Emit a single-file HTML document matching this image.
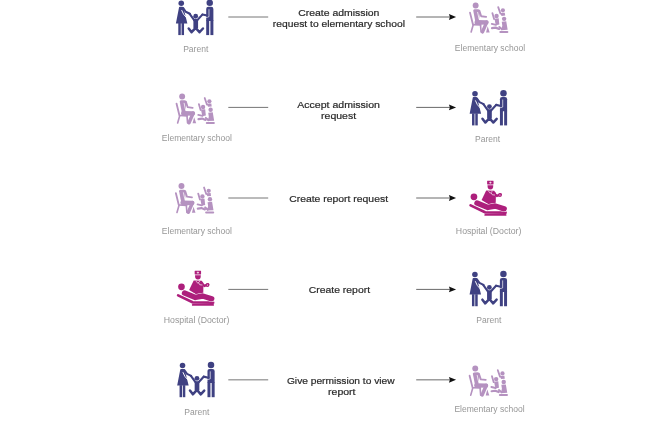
<!DOCTYPE html>
<html><head><meta charset="utf-8"><title>Flow</title>
<style>
html,body{margin:0;padding:0;background:#fff;}
body{width:653px;height:439px;position:relative;overflow:hidden;font-family:"Liberation Sans",sans-serif;}
svg{position:absolute;left:0;top:0;display:block;will-change:transform;}
text{font-family:"Liberation Sans",sans-serif;}
.lb{font-size:8.3px;fill:#969696;text-anchor:middle;}
.ct{font-size:9.3px;fill:#2a2a2a;stroke:#2a2a2a;stroke-width:0.2px;text-anchor:middle;}
</style></head><body>
<svg width="653" height="439" viewBox="0 0 653 439">
<g transform="translate(168.73,-4.11)"><g transform="translate(0,0) scale(0.09560)"><g fill="#3f4182" stroke="none">
<circle cx="131" cy="78" r="29"/>
<path d="M107 123 Q107 114 116 114 L142 114 Q151 114 154 123 L195 288 L75 288 Z"/>
<rect x="100" y="284" width="26" height="126"/>
<rect x="134" y="284" width="26" height="126"/>
<circle cx="429" cy="73" r="34"/>
<path d="M392 136 Q392 114 414 114 L444 114 Q467 114 467 136 L467 262 L392 262 Z"/>
<rect x="392" y="255" width="31" height="155"/>
<rect x="436" y="255" width="31" height="155"/>
<circle cx="282" cy="213" r="25"/>
<rect x="258" y="242" width="49" height="100" rx="13"/>
</g>
<g fill="none" stroke="#3f4182" stroke-linecap="round" stroke-linejoin="round">
<path d="M136 152 Q150 196 184 226" stroke-width="10" stroke="#fff" />
<path d="M150 126 L178 166 L221 187" stroke-width="21"/>
<path d="M421 144 L421 218 L392 226" stroke-width="7" stroke="#fff"/>
<path d="M402 206 L353 195" stroke-width="22"/>
<path d="M268 256 L219 188" stroke-width="22"/>
<path d="M297 256 L352 196" stroke-width="22"/>
<path d="M209 341 L239 380 L282 334 L322 380 L358 341" stroke-width="26"/>
</g></g></g>
<text class="lb" transform="translate(195.70,51.75) scale(1.03,1)">Parent</text>
<path d="M228.3 17.00 L268.2 17.00" stroke="#767676" stroke-width="1" fill="none"/>
<text class="ct" transform="translate(338.80,16.25) scale(1.125,1)">Create admission</text>
<text class="ct" transform="translate(338.90,26.95) scale(1.108,1)">request to elementary school</text>
<g transform="translate(416,17.00)"><path d="M0.2 0 L34 0" stroke="#6a6a6a" stroke-width="1" fill="none"/><path d="M40.1 0 L32.9 -2.9 L33.9 0 L32.9 2.9 Z" fill="#111"/></g>
<g transform="translate(463.50,-2.95)"><g transform="translate(0,0) scale(0.09560)"><g fill="#b592c0" stroke="none">
<circle cx="127" cy="88" r="31"/>
<path d="M102 143 Q101 129 115 128 L152 127 Q164 127 168 139 L172 170 L160 250 L126 268 Z"/>
<path d="M253 306 L274 370 L236 370 Z"/>
<circle cx="412" cy="139" r="22"/>
<circle cx="346" cy="198" r="23"/>
<circle cx="425" cy="228" r="23"/>
<path d="M382 166 L432 163 L436 194 L398 197 Z"/>
<path d="M324 226 L368 221 L375 288 L338 296 Z"/>
<path d="M400 258 L447 254 L462 342 L394 346 L406 300 Z"/>
</g>
<g fill="none" stroke="#b592c0" stroke-linecap="round" stroke-linejoin="round">
<path d="M148 160 L163 230" stroke-width="8" stroke="#fff"/>
<path d="M166 142 L185 201 L237 207" stroke-width="19"/>
<path d="M138 264 L240 266" stroke-width="46"/>
<path d="M243 262 L199 364" stroke-width="36"/>
<path d="M68 163 L99 287 L180 290" stroke-width="19"/>
<path d="M101 292 L80 366" stroke-width="17"/>
<path d="M178 294 L184 366" stroke-width="17"/>
<path d="M386 172 L363 105" stroke-width="19"/>
<path d="M320 230 L302 168" stroke-width="19"/>
<path d="M296 281 L340 291" stroke-width="20"/>
<path d="M298 325 L336 320 L372 334" stroke-width="23"/>
<path d="M375 313 L402 336" stroke-width="21"/>
<path d="M385 365 L459 365" stroke-width="21"/>
</g></g></g>
<text class="lb" transform="translate(489.95,51.00) scale(1.03,1)">Elementary school</text>
<g transform="translate(170.00,88.00)"><g transform="translate(0,0) scale(0.09560)"><g fill="#b592c0" stroke="none">
<circle cx="127" cy="88" r="31"/>
<path d="M102 143 Q101 129 115 128 L152 127 Q164 127 168 139 L172 170 L160 250 L126 268 Z"/>
<path d="M253 306 L274 370 L236 370 Z"/>
<circle cx="412" cy="139" r="22"/>
<circle cx="346" cy="198" r="23"/>
<circle cx="425" cy="228" r="23"/>
<path d="M382 166 L432 163 L436 194 L398 197 Z"/>
<path d="M324 226 L368 221 L375 288 L338 296 Z"/>
<path d="M400 258 L447 254 L462 342 L394 346 L406 300 Z"/>
</g>
<g fill="none" stroke="#b592c0" stroke-linecap="round" stroke-linejoin="round">
<path d="M148 160 L163 230" stroke-width="8" stroke="#fff"/>
<path d="M166 142 L185 201 L237 207" stroke-width="19"/>
<path d="M138 264 L240 266" stroke-width="46"/>
<path d="M243 262 L199 364" stroke-width="36"/>
<path d="M68 163 L99 287 L180 290" stroke-width="19"/>
<path d="M101 292 L80 366" stroke-width="17"/>
<path d="M178 294 L184 366" stroke-width="17"/>
<path d="M386 172 L363 105" stroke-width="19"/>
<path d="M320 230 L302 168" stroke-width="19"/>
<path d="M296 281 L340 291" stroke-width="20"/>
<path d="M298 325 L336 320 L372 334" stroke-width="23"/>
<path d="M375 313 L402 336" stroke-width="21"/>
<path d="M385 365 L459 365" stroke-width="21"/>
</g></g></g>
<text class="lb" transform="translate(196.90,141.00) scale(1.03,1)">Elementary school</text>
<path d="M228.3 107.40 L268.2 107.40" stroke="#767676" stroke-width="1" fill="none"/>
<text class="ct" transform="translate(338.60,108.10) scale(1.135,1)">Accept admission</text>
<text class="ct" transform="translate(338.60,119.10) scale(1.128,1)">request</text>
<g transform="translate(416,107.40)"><path d="M0.2 0 L34 0" stroke="#6a6a6a" stroke-width="1" fill="none"/><path d="M40.1 0 L32.9 -2.9 L33.9 0 L32.9 2.9 Z" fill="#111"/></g>
<g transform="translate(462.47,86.21)"><g transform="translate(0,0) scale(0.09560)"><g fill="#3f4182" stroke="none">
<circle cx="131" cy="78" r="29"/>
<path d="M107 123 Q107 114 116 114 L142 114 Q151 114 154 123 L195 288 L75 288 Z"/>
<rect x="100" y="284" width="26" height="126"/>
<rect x="134" y="284" width="26" height="126"/>
<circle cx="429" cy="73" r="34"/>
<path d="M392 136 Q392 114 414 114 L444 114 Q467 114 467 136 L467 262 L392 262 Z"/>
<rect x="392" y="255" width="31" height="155"/>
<rect x="436" y="255" width="31" height="155"/>
<circle cx="282" cy="213" r="25"/>
<rect x="258" y="242" width="49" height="100" rx="13"/>
</g>
<g fill="none" stroke="#3f4182" stroke-linecap="round" stroke-linejoin="round">
<path d="M136 152 Q150 196 184 226" stroke-width="10" stroke="#fff" />
<path d="M150 126 L178 166 L221 187" stroke-width="21"/>
<path d="M421 144 L421 218 L392 226" stroke-width="7" stroke="#fff"/>
<path d="M402 206 L353 195" stroke-width="22"/>
<path d="M268 256 L219 188" stroke-width="22"/>
<path d="M297 256 L352 196" stroke-width="22"/>
<path d="M209 341 L239 380 L282 334 L322 380 L358 341" stroke-width="26"/>
</g></g></g>
<text class="lb" transform="translate(487.60,141.90) scale(1.03,1)">Parent</text>
<g transform="translate(169.33,177.50)"><g transform="translate(0,0) scale(0.09560)"><g fill="#b592c0" stroke="none">
<circle cx="127" cy="88" r="31"/>
<path d="M102 143 Q101 129 115 128 L152 127 Q164 127 168 139 L172 170 L160 250 L126 268 Z"/>
<path d="M253 306 L274 370 L236 370 Z"/>
<circle cx="412" cy="139" r="22"/>
<circle cx="346" cy="198" r="23"/>
<circle cx="425" cy="228" r="23"/>
<path d="M382 166 L432 163 L436 194 L398 197 Z"/>
<path d="M324 226 L368 221 L375 288 L338 296 Z"/>
<path d="M400 258 L447 254 L462 342 L394 346 L406 300 Z"/>
</g>
<g fill="none" stroke="#b592c0" stroke-linecap="round" stroke-linejoin="round">
<path d="M148 160 L163 230" stroke-width="8" stroke="#fff"/>
<path d="M166 142 L185 201 L237 207" stroke-width="19"/>
<path d="M138 264 L240 266" stroke-width="46"/>
<path d="M243 262 L199 364" stroke-width="36"/>
<path d="M68 163 L99 287 L180 290" stroke-width="19"/>
<path d="M101 292 L80 366" stroke-width="17"/>
<path d="M178 294 L184 366" stroke-width="17"/>
<path d="M386 172 L363 105" stroke-width="19"/>
<path d="M320 230 L302 168" stroke-width="19"/>
<path d="M296 281 L340 291" stroke-width="20"/>
<path d="M298 325 L336 320 L372 334" stroke-width="23"/>
<path d="M375 313 L402 336" stroke-width="21"/>
<path d="M385 365 L459 365" stroke-width="21"/>
</g></g></g>
<text class="lb" transform="translate(196.90,233.60) scale(1.03,1)">Elementary school</text>
<path d="M228.3 198.00 L268.2 198.00" stroke="#767676" stroke-width="1" fill="none"/>
<text class="ct" transform="translate(338.60,201.70) scale(1.12,1)">Create report request</text>
<g transform="translate(416,198.00)"><path d="M0.2 0 L34 0" stroke="#6a6a6a" stroke-width="1" fill="none"/><path d="M40.1 0 L32.9 -2.9 L33.9 0 L32.9 2.9 Z" fill="#111"/></g>
<g transform="translate(462.47,178.00)"><g transform="translate(0,0) scale(0.09560)"><g fill="#ad1f7c" stroke="none">
<rect x="258" y="28" width="67" height="40" rx="4"/>
<path d="M262 76 L322 76 Q324 121 292 121 Q260 121 262 76 Z"/>
<path d="M248 132 L332 133 L350 158 L348 262 L272 274 L200 230 Z"/>
<circle cx="120" cy="197" r="35"/>
<circle cx="392" cy="178" r="20"/>
</g>
<g fill="none" stroke="#ad1f7c" stroke-linecap="round" stroke-linejoin="round">
<path d="M334 162 L360 188 L400 172" stroke-width="25"/>
<path d="M85 286 L236 359 L451 363" stroke-width="28"/>
<path d="M238 386 L451 386" stroke-width="19"/>
<path d="M152 261 L266 308 L342 293 L436 322" stroke-width="66" stroke="#fff"/>
<path d="M152 261 L266 308 L342 293 L436 322" stroke-width="57"/>
</g>
<g fill="none" stroke="#fff" stroke-width="7">
<path d="M292 37 L292 60 M280 48 L304 48"/>
<path d="M272 137 L292 160 L312 137"/>
<path d="M300 156 Q304 184 340 178"/>
</g>
<circle cx="392" cy="178" r="6" fill="#fff"/></g></g>
<text class="lb" transform="translate(488.60,233.70) scale(1.055,1)">Hospital (Doctor)</text>
<g transform="translate(170.00,268.00)"><g transform="translate(0,0) scale(0.09560)"><g fill="#ad1f7c" stroke="none">
<rect x="258" y="28" width="67" height="40" rx="4"/>
<path d="M262 76 L322 76 Q324 121 292 121 Q260 121 262 76 Z"/>
<path d="M248 132 L332 133 L350 158 L348 262 L272 274 L200 230 Z"/>
<circle cx="120" cy="197" r="35"/>
<circle cx="392" cy="178" r="20"/>
</g>
<g fill="none" stroke="#ad1f7c" stroke-linecap="round" stroke-linejoin="round">
<path d="M334 162 L360 188 L400 172" stroke-width="25"/>
<path d="M85 286 L236 359 L451 363" stroke-width="28"/>
<path d="M238 386 L451 386" stroke-width="19"/>
<path d="M152 261 L266 308 L342 293 L436 322" stroke-width="66" stroke="#fff"/>
<path d="M152 261 L266 308 L342 293 L436 322" stroke-width="57"/>
</g>
<g fill="none" stroke="#fff" stroke-width="7">
<path d="M292 37 L292 60 M280 48 L304 48"/>
<path d="M272 137 L292 160 L312 137"/>
<path d="M300 156 Q304 184 340 178"/>
</g>
<circle cx="392" cy="178" r="6" fill="#fff"/></g></g>
<text class="lb" transform="translate(196.55,322.80) scale(1.055,1)">Hospital (Doctor)</text>
<path d="M228.3 289.40 L268.2 289.40" stroke="#767676" stroke-width="1" fill="none"/>
<text class="ct" transform="translate(339.40,292.80) scale(1.12,1)">Create report</text>
<g transform="translate(416,289.40)"><path d="M0.2 0 L34 0" stroke="#6a6a6a" stroke-width="1" fill="none"/><path d="M40.1 0 L32.9 -2.9 L33.9 0 L32.9 2.9 Z" fill="#111"/></g>
<g transform="translate(462.40,267.04)"><g transform="translate(0,0) scale(0.09560)"><g fill="#3f4182" stroke="none">
<circle cx="131" cy="78" r="29"/>
<path d="M107 123 Q107 114 116 114 L142 114 Q151 114 154 123 L195 288 L75 288 Z"/>
<rect x="100" y="284" width="26" height="126"/>
<rect x="134" y="284" width="26" height="126"/>
<circle cx="429" cy="73" r="34"/>
<path d="M392 136 Q392 114 414 114 L444 114 Q467 114 467 136 L467 262 L392 262 Z"/>
<rect x="392" y="255" width="31" height="155"/>
<rect x="436" y="255" width="31" height="155"/>
<circle cx="282" cy="213" r="25"/>
<rect x="258" y="242" width="49" height="100" rx="13"/>
</g>
<g fill="none" stroke="#3f4182" stroke-linecap="round" stroke-linejoin="round">
<path d="M136 152 Q150 196 184 226" stroke-width="10" stroke="#fff" />
<path d="M150 126 L178 166 L221 187" stroke-width="21"/>
<path d="M421 144 L421 218 L392 226" stroke-width="7" stroke="#fff"/>
<path d="M402 206 L353 195" stroke-width="22"/>
<path d="M268 256 L219 188" stroke-width="22"/>
<path d="M297 256 L352 196" stroke-width="22"/>
<path d="M209 341 L239 380 L282 334 L322 380 L358 341" stroke-width="26"/>
</g></g></g>
<text class="lb" transform="translate(488.90,323.20) scale(1.03,1)">Parent</text>
<g transform="translate(170.00,358.00)"><g transform="translate(0,0) scale(0.09560)"><g fill="#3f4182" stroke="none">
<circle cx="131" cy="78" r="29"/>
<path d="M107 123 Q107 114 116 114 L142 114 Q151 114 154 123 L195 288 L75 288 Z"/>
<rect x="100" y="284" width="26" height="126"/>
<rect x="134" y="284" width="26" height="126"/>
<circle cx="429" cy="73" r="34"/>
<path d="M392 136 Q392 114 414 114 L444 114 Q467 114 467 136 L467 262 L392 262 Z"/>
<rect x="392" y="255" width="31" height="155"/>
<rect x="436" y="255" width="31" height="155"/>
<circle cx="282" cy="213" r="25"/>
<rect x="258" y="242" width="49" height="100" rx="13"/>
</g>
<g fill="none" stroke="#3f4182" stroke-linecap="round" stroke-linejoin="round">
<path d="M136 152 Q150 196 184 226" stroke-width="10" stroke="#fff" />
<path d="M150 126 L178 166 L221 187" stroke-width="21"/>
<path d="M421 144 L421 218 L392 226" stroke-width="7" stroke="#fff"/>
<path d="M402 206 L353 195" stroke-width="22"/>
<path d="M268 256 L219 188" stroke-width="22"/>
<path d="M297 256 L352 196" stroke-width="22"/>
<path d="M209 341 L239 380 L282 334 L322 380 L358 341" stroke-width="26"/>
</g></g></g>
<text class="lb" transform="translate(196.90,414.60) scale(1.03,1)">Parent</text>
<path d="M228.3 379.85 L268.2 379.85" stroke="#767676" stroke-width="1" fill="none"/>
<text class="ct" transform="translate(340.75,383.80) scale(1.098,1)">Give permission to view</text>
<text class="ct" transform="translate(341.80,394.60) scale(1.13,1)">report</text>
<g transform="translate(416,379.85)"><path d="M0.2 0 L34 0" stroke="#6a6a6a" stroke-width="1" fill="none"/><path d="M40.1 0 L32.9 -2.9 L33.9 0 L32.9 2.9 Z" fill="#111"/></g>
<g transform="translate(463.10,360.16)"><g transform="translate(0,0) scale(0.09560)"><g fill="#b592c0" stroke="none">
<circle cx="127" cy="88" r="31"/>
<path d="M102 143 Q101 129 115 128 L152 127 Q164 127 168 139 L172 170 L160 250 L126 268 Z"/>
<path d="M253 306 L274 370 L236 370 Z"/>
<circle cx="412" cy="139" r="22"/>
<circle cx="346" cy="198" r="23"/>
<circle cx="425" cy="228" r="23"/>
<path d="M382 166 L432 163 L436 194 L398 197 Z"/>
<path d="M324 226 L368 221 L375 288 L338 296 Z"/>
<path d="M400 258 L447 254 L462 342 L394 346 L406 300 Z"/>
</g>
<g fill="none" stroke="#b592c0" stroke-linecap="round" stroke-linejoin="round">
<path d="M148 160 L163 230" stroke-width="8" stroke="#fff"/>
<path d="M166 142 L185 201 L237 207" stroke-width="19"/>
<path d="M138 264 L240 266" stroke-width="46"/>
<path d="M243 262 L199 364" stroke-width="36"/>
<path d="M68 163 L99 287 L180 290" stroke-width="19"/>
<path d="M101 292 L80 366" stroke-width="17"/>
<path d="M178 294 L184 366" stroke-width="17"/>
<path d="M386 172 L363 105" stroke-width="19"/>
<path d="M320 230 L302 168" stroke-width="19"/>
<path d="M296 281 L340 291" stroke-width="20"/>
<path d="M298 325 L336 320 L372 334" stroke-width="23"/>
<path d="M375 313 L402 336" stroke-width="21"/>
<path d="M385 365 L459 365" stroke-width="21"/>
</g></g></g>
<text class="lb" transform="translate(489.50,411.80) scale(1.03,1)">Elementary school</text>
</svg>
</body></html>
